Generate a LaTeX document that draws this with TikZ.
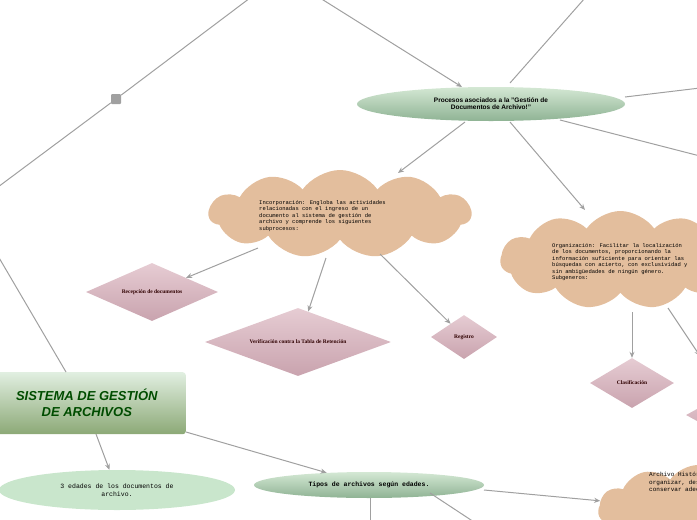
\documentclass[tikz,border=0pt]{standalone}
\usepackage{fontspec}
\setmainfont{Liberation Sans}
\newfontfamily\cour{Liberation Mono}
\newfontfamily\tms{Liberation Serif}
\usetikzlibrary{shapes.geometric,shapes.symbols,arrows.meta}
\definecolor{cloudc}{HTML}{E3BE9D}
\definecolor{diam}{HTML}{C9A3AE}
\definecolor{diamtop}{HTML}{E6CCD3}
\definecolor{gdark}{HTML}{8FB394}
\definecolor{glight}{HTML}{D4E8D4}
\definecolor{lg}{HTML}{C9E6CC}
\definecolor{ln}{HTML}{A0A0A0}
\tikzset{
 conn/.style={draw=ln,line width=1pt},
 arr/.style={conn,-{Stealth[length=6pt,width=5pt]}},
 cloudn/.style={cloud,cloud puffs=11,cloud puff arc=110,aspect=3,fill=cloudc,draw=none,inner sep=0pt,font=\cour\fontsize{5.5}{6.5}\selectfont,align=left},
 dia/.style={diamond,aspect=2.2,inner sep=0pt,top color=diamtop,bottom color=diam,draw=none,font=\tms\bfseries\fontsize{5.5}{6}\selectfont,text=black!70!red!60!black},
 gell/.style={ellipse,draw=none,top color=glight,bottom color=gdark,font=\bfseries\fontsize{6.5}{7}\selectfont,align=center}
}
\begin{document}
\begin{tikzpicture}[x=1pt,y=-1pt]
\useasboundingbox (0,0) rectangle (697,520);
\clip (0,0) rectangle (697,520);
% lines
\node[fill=ln,rounded corners=1pt,minimum size=10pt,inner sep=0pt] (sq) at (116,99) {};
\coordinate (t1) at (250,-2);
\coordinate (l1) at (-2,187);
\draw[conn] (t1) -- (sq); \draw[conn] (sq) -- (l1);
\node[gell,minimum width=268pt,minimum height=34pt,inner sep=0pt] (proc) at (491,104) {Procesos asociados a la "Gestión de\\Documentos de Archivo!"};
\coordinate (t2) at (320,-2); \coordinate (t3) at (585,-2);
\coordinate (r1) at (700,88); \coordinate (r2) at (700,156);
\draw[arr] (t2) -- (462,87);
\draw[conn] (t3) -- (510,83);
\draw[conn] (625,97) -- (r1);
\draw[conn] (560,120) -- (r2);
% clouds
\node[cloudn,minimum width=262pt,minimum height=88pt] (inc) at (340,214) {};
\node[font=\cour\fontsize{5.5}{6.5}\selectfont,align=left,anchor=north west,inner sep=0pt] at (259,200) {Incorporación: Engloba las actividades\\relacionadas con el ingreso de un\\documento al sistema de gestión de\\archivo y comprende los siguientes\\subprocesos:};
\node[cloudn,minimum width=240pt,minimum height=98pt,anchor=west] (org) at (500,260) {};
\node[font=\cour\fontsize{5.5}{6.5}\selectfont,align=left,anchor=north west,inner sep=0pt] at (552,243) {Organización: Facilitar la localización\\de los documentos, proporcionando la\\información suficiente para orientar las\\búsquedas con acierto, con exclusividad y\\sin ambigüedades de ningún género.\\Subgeneros:};
\draw[arr] (465,122) -- (398,173);
\draw[arr] (510,122) -- (585,210);
% diamonds
\node[dia,minimum width=132pt,minimum height=58pt] (rec) at (152,292) {Recepción de documentos};
\node[dia,minimum width=186pt,minimum height=68pt] (ver) at (298,342) {Verificación contra la Tabla de Retención};
\node[dia,minimum width=66pt,minimum height=44pt] (reg) at (464,337) {Registro};
\node[dia,minimum width=84pt,minimum height=50pt] (cla) at (632,383) {Clasificación};
\node[dia,minimum width=84pt,minimum height=46pt] (d5) at (728,415) {};
\draw[arr] (258,248) -- (rec);
\draw[arr] (326,258) -- (ver);
\draw[arr] (380,254) -- (reg);
\draw[arr] (632,312) -- (cla);
\draw[arr] (668,308) -- (700,356);
% sistema
\node[rounded corners=3pt,top color=glight!70!white,bottom color=gdark!80!olive,minimum width=198pt,minimum height=62pt,anchor=north east,font=\bfseries\itshape\fontsize{13}{16}\selectfont,align=center,text=black!70!green] (sis) at (186,372) {SISTEMA DE GESTIÓN\\DE ARCHIVOS};
\coordinate (l2) at (-2,256);
\draw[conn] (l2) -- (66,372);
\node[ellipse,fill=lg,minimum width=236pt,minimum height=40pt,inner sep=0pt,font=\cour\fontsize{6.5}{7.5}\selectfont,align=center] (ed) at (117,490) {3 edades de los documentos de\\archivo.};
\draw[arr] (96,434) -- (ed);
\node[gell,minimum width=230pt,minimum height=26pt,inner sep=0pt,font=\cour\bfseries\fontsize{6.5}{7.5}\selectfont] (tip) at (369,485) {Tipos de archivos según edades.};
\draw[arr] (186,432) -- (tip);
\coordinate (b1) at (370,522); \coordinate (b2) at (474,522);
\draw[conn] (370,498) -- (b1);
\draw[conn] (430,493) -- (b2);
\node[cloudn,minimum width=200pt,minimum height=90pt,anchor=west] (hist) at (598,510) {};
\node[font=\cour\fontsize{6}{7.5}\selectfont,align=left,anchor=north west,inner sep=0pt] at (649,472) {Archivo Histórico:\\organizar, describir y\\conservar adecuadamente};
\draw[arr] (484,490) -- (hist);
\end{tikzpicture}
\end{document}
